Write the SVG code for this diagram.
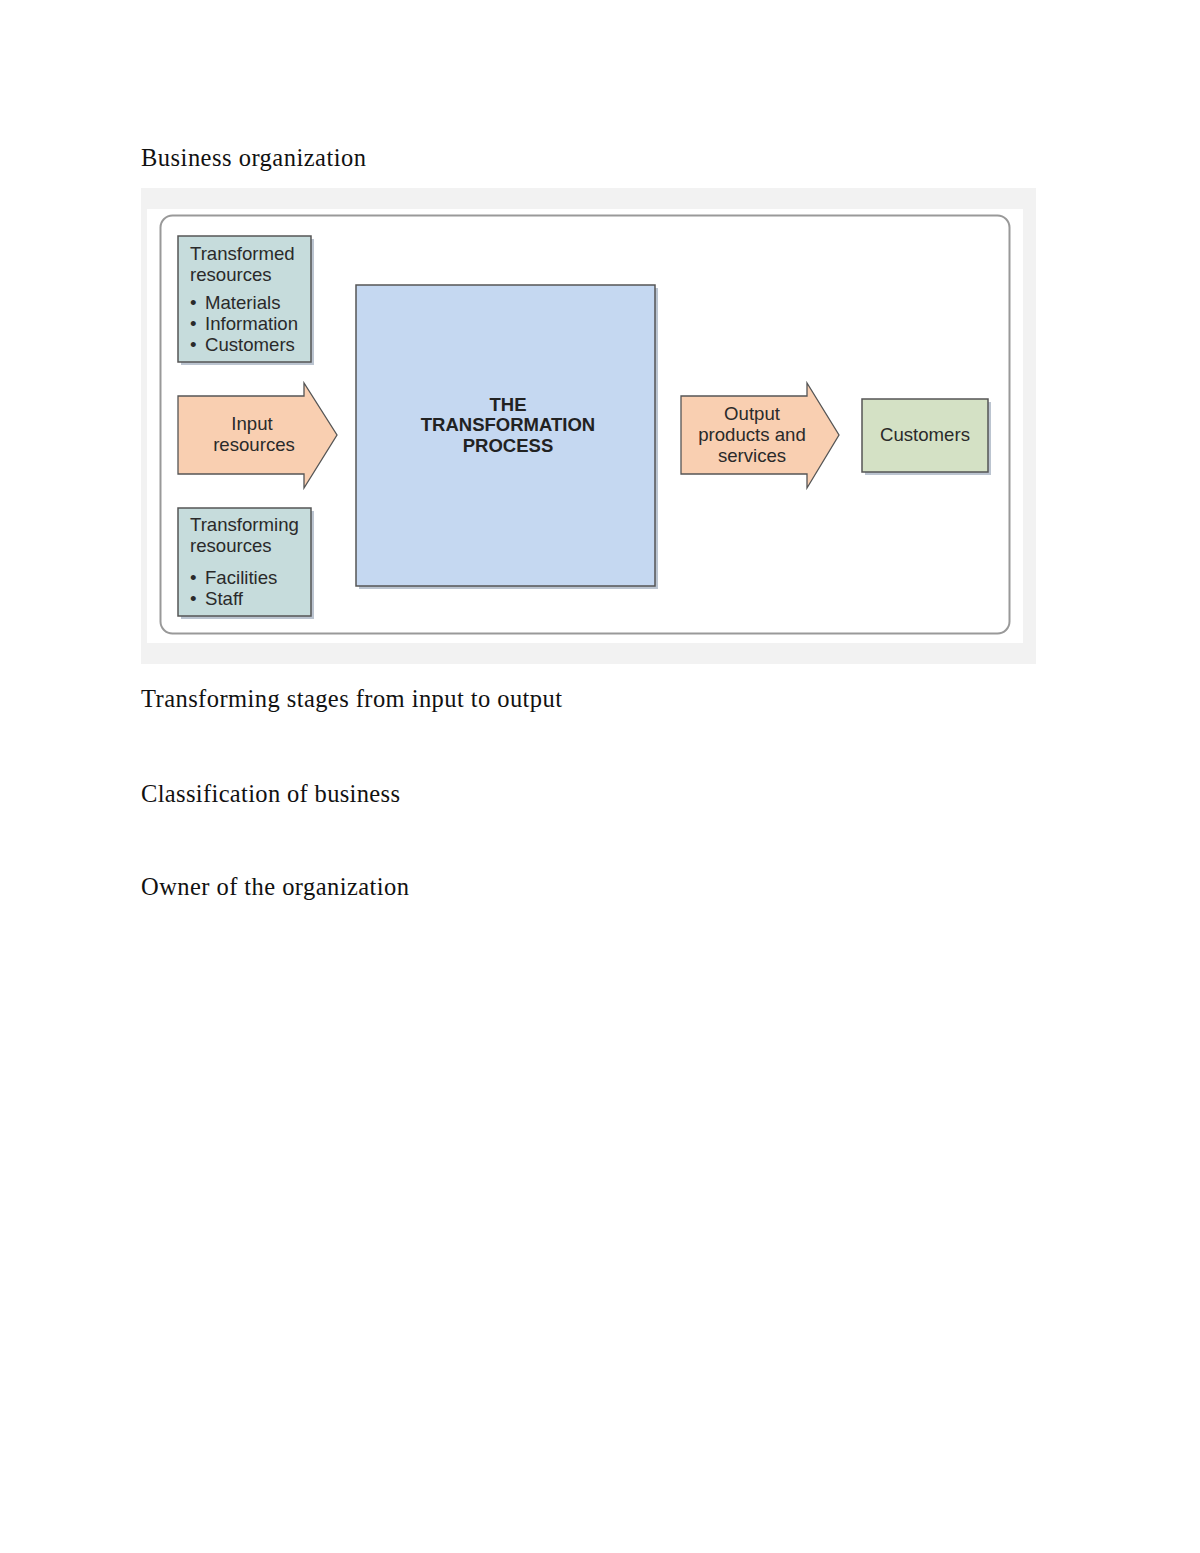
<svg xmlns="http://www.w3.org/2000/svg" width="1200" height="1553" viewBox="0 0 1200 1553">
<style>
.h{font-family:"Liberation Serif","Times New Roman",serif;font-size:24.5px;fill:#111}
.t{font-family:"Liberation Sans",Arial,sans-serif;font-size:18.6px;fill:#2a2a2a}
.b{font-family:"Liberation Sans",Arial,sans-serif;font-size:18.5px;font-weight:bold;fill:#222}
.box{stroke:#555;stroke-width:1.5}
.sh{fill:#8d9db0;opacity:0.6}
.teal{fill:#c6dcdc}
.org{fill:#f9cfb1;stroke:#555;stroke-width:1.3}
.blue{fill:#c5d8f1}
.grn{fill:#d4e1c5}
</style>
<rect width="1200" height="1553" fill="#ffffff"/>
<text class="h" x="141" y="166" textLength="225" lengthAdjust="spacing">Business organization</text>
<rect x="141" y="188" width="895" height="476" fill="#f2f2f2"/>
<rect x="147" y="209" width="876" height="434" fill="#ffffff"/>
<rect x="160.5" y="215.5" width="849" height="418" rx="12" fill="#ffffff" stroke="#999" stroke-width="2"/>
<g id="transformed">
<rect class="sh" x="181" y="239" width="133" height="126"/>
<rect class="box teal" x="178" y="236" width="133" height="126"/>
<text class="t" x="190" y="260">Transformed</text>
<text class="t" x="190" y="281">resources</text>
<text class="t" x="190" y="309">•</text><text class="t" x="205" y="309">Materials</text>
<text class="t" x="190" y="330">•</text><text class="t" x="205" y="330">Information</text>
<text class="t" x="190" y="351">•</text><text class="t" x="205" y="351">Customers</text>
</g>
<g id="input">
<polygon class="org" points="178,396 304,396 304,383 337,435 304,488 304,474 178,474"/>
<text class="t" x="252" y="430" text-anchor="middle">Input</text>
<text class="t" x="254" y="451" text-anchor="middle">resources</text>
</g>
<g id="transforming">
<rect class="sh" x="181" y="511" width="133" height="108"/>
<rect class="box teal" x="178" y="508" width="133" height="108"/>
<text class="t" x="190" y="531">Transforming</text>
<text class="t" x="190" y="552">resources</text>
<text class="t" x="190" y="584">•</text><text class="t" x="205" y="584">Facilities</text>
<text class="t" x="190" y="605">•</text><text class="t" x="205" y="605">Staff</text>
</g>
<g id="process">
<rect class="sh" x="359" y="288" width="299" height="301"/>
<rect class="box blue" x="356" y="285" width="299" height="301"/>
<text class="b" x="508" y="411" text-anchor="middle">THE</text>
<text class="b" x="508" y="431" text-anchor="middle">TRANSFORMATION</text>
<text class="b" x="508" y="452" text-anchor="middle">PROCESS</text>
</g>
<g id="output">
<polygon class="org" points="681,396 807,396 807,383 839,435 807,488 807,474 681,474"/>
<text class="t" x="752" y="420" text-anchor="middle">Output</text>
<text class="t" x="752" y="441" text-anchor="middle">products and</text>
<text class="t" x="752" y="462" text-anchor="middle">services</text>
</g>
<g id="customers">
<rect class="sh" x="865" y="402" width="126" height="73"/>
<rect class="box grn" x="862" y="399" width="126" height="73"/>
<text class="t" x="925" y="441" text-anchor="middle">Customers</text>
</g>
<g id="connectors"></g>
<text class="h" x="141" y="707" textLength="421" lengthAdjust="spacing">Transforming stages from input to output</text>
<text class="h" x="141" y="802" textLength="259" lengthAdjust="spacing">Classification of business</text>
<text class="h" x="141" y="895" textLength="268" lengthAdjust="spacing">Owner of the organization</text>
</svg>
